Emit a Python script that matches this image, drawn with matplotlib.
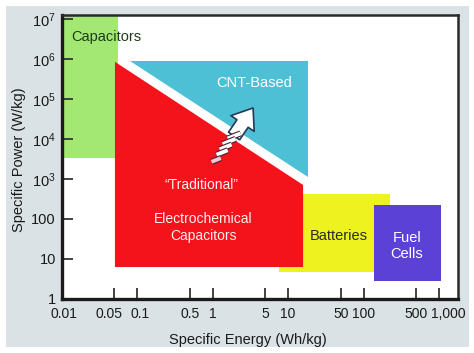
import matplotlib
matplotlib.use("Agg")
import matplotlib.pyplot as plt
import matplotlib.patheffects as pe
import matplotlib.transforms as mtransforms
from matplotlib.patches import Polygon, Rectangle

plt.rcParams['font.family'] = ['Liberation Sans', 'DejaVu Sans']
plt.rcParams['mathtext.fontset'] = 'custom'
plt.rcParams['mathtext.rm'] = 'Liberation Sans'

# x ticks (Wh/kg) and y ticks (W/kg)
x_ticks = [0.01, 0.05, 0.1, 0.5, 1, 5, 10, 50, 100, 500, 1000]
x_labels = ['0.01', '0.05', '0.1', '0.5', '1', '5', '10', '50', '100', '500', '1,000']
y_ticks = [1, 10, 100, 1e3, 1e4, 1e5, 1e6, 1e7]
y_labels = ['1', '10', '100', r'$\mathregular{10^3}$', r'$\mathregular{10^4}$',
            r'$\mathregular{10^5}$', r'$\mathregular{10^6}$', r'$\mathregular{10^7}$']

# regions: (energy, power) corners
capacitors_x = [0.01, 0.056]
capacitors_y = [3400, 1.26e7]
cnt_x = [0.081, 18.3, 18.3]
cnt_y = [8.9e5, 8.9e5, 1120]
trad_x = [0.051, 15.8, 15.8, 0.051]
trad_y = [8.5e5, 710, 6.3, 6.3]
batt_x = [7.6, 224]
batt_y = [4.7, 420]
fuel_x = [138, 1070]
fuel_y = [2.8, 225]

# arrow (tail, tip)
arrow_x = [1.93, 3.44]
arrow_y = [11900, 59600]

fig = plt.figure(figsize=(4.74, 3.53), dpi=100, facecolor='white')
fig.patches.append(Rectangle((6 / 474, 6 / 353), 463 / 474, 341 / 353,
                             transform=fig.transFigure, fc='#dbe2e6', ec='none', zorder=-5))
ax = fig.add_axes([61.5 / 474, 54 / 353, 396.5 / 474, 284 / 353])
ax.set_facecolor('white')
ax.set_xscale('log')
ax.set_yscale('log')
ax.set_xlim(0.01, 10 ** 3.25)
ax.set_ylim(1, 10 ** 7.1)

ax.add_patch(Rectangle((capacitors_x[0], capacitors_y[0]), capacitors_x[1] - capacitors_x[0],
                       capacitors_y[1] - capacitors_y[0], fc='#a3e872', ec='none', zorder=1))
ax.add_patch(Polygon(list(zip(cnt_x, cnt_y)), closed=True, fc='#4dc0d5', ec='none', zorder=1))
ax.add_patch(Rectangle((batt_x[0], batt_y[0]), batt_x[1] - batt_x[0], batt_y[1] - batt_y[0],
                       fc='#eef21e', ec='none', zorder=1))
ax.add_patch(Polygon(list(zip(trad_x, trad_y)), closed=True, fc='#f5131b', ec='none', zorder=2))
ax.add_patch(Rectangle((fuel_x[0], fuel_y[0]), fuel_x[1] - fuel_x[0], fuel_y[1] - fuel_y[0],
                       fc='#5b41d6', ec='none', zorder=2))

# arrow
ax.annotate('', xy=(arrow_x[1], arrow_y[1]), xytext=(arrow_x[0], arrow_y[0]),
            arrowprops=dict(arrowstyle='simple,head_length=0.5,head_width=0.75,tail_width=0.36',
                            fc='white', ec='#233a55', lw=1.2, shrinkA=0, shrinkB=0,
                            mutation_scale=27), zorder=4)

# stripes at the arrow tail (pixel offsets from the tail)
X0, Y0 = ax.transData.transform((arrow_x[0], arrow_y[0]))
inv = ax.transData.inverted()
stripes = [(0, 0, 7, 'white'), (-5, -5.5, 7, 'white'), (-8.5, -11, 6.5, 'white'),
           (-12, -16.5, 6, 'white'), (-18, -24, 5, '#f4c4d2')]
ux, uy = 0.93, 0.37
for dx, dy, h, c in stripes:
    p1 = inv.transform((X0 + dx - ux * h, Y0 + dy - uy * h))
    p2 = inv.transform((X0 + dx + ux * h, Y0 + dy + uy * h))
    ax.plot([p1[0], p2[0]], [p1[1], p2[1]], color=c, lw=2.8, solid_capstyle='butt', zorder=5,
            path_effects=[pe.Stroke(linewidth=4.4, foreground='#4a2035'), pe.Normal()])

# labels
ax.text(0.0134, 3.5e6, 'Capacitors', color='#1f3a1a', fontsize=10.5, ha='left', va='center', zorder=6)
ax.text(3.55, 2.5e5, 'CNT-Based', color='white', fontsize=10.5, ha='center', va='center', zorder=6)
ax.text(0.71, 710, '\u201cTraditional\u201d', color='#fff0f0', fontsize=10, ha='center', va='center', zorder=6)
ax.text(0.75, 60, 'Electrochemical\nCapacitors', color='#fff0f0', fontsize=10, ha='center',
        va='center', linespacing=1.25, zorder=6)
ax.text(47, 37.6, 'Batteries', color='#2a2a2a', fontsize=10.5, ha='center', va='center', zorder=6)
ax.text(377, 21, 'Fuel\nCells', color='white', fontsize=10.5, ha='center', va='center',
        linespacing=1.2, zorder=6)

ax.set_xticks(x_ticks)
ax.set_xticklabels(x_labels)
ax.set_yticks(y_ticks)
ax.set_yticklabels(y_labels)
ax.minorticks_off()
ax.tick_params(axis='both', direction='in', length=8, width=1.3, color='#333333',
               labelcolor='#1a1a1a')
ax.tick_params(axis='x', pad=6, labelsize=10)
ax.tick_params(axis='y', pad=4, labelsize=10.5)

# the original nudges a few crowded x labels sideways (pixels)
nudge = {'0.01': 2, '0.05': -5, '0.1': 3, '1,000': 9}
for lab in ax.get_xticklabels():
    shift = nudge.get(lab.get_text(), 0)
    if shift:
        lab.set_transform(lab.get_transform() +
                          mtransforms.ScaledTranslation(shift / 100, 0, fig.dpi_scale_trans))

for side in ['left', 'bottom']:
    ax.spines[side].set_linewidth(2.4)
    ax.spines[side].set_color('#1a1a1a')
for side in ['top', 'right']:
    ax.spines[side].set_linewidth(1.8)
    ax.spines[side].set_color('#2a2a2a')
for s in ax.spines.values():
    s.set_zorder(7)

ax.set_xlabel('Specific Energy (Wh/kg)', fontsize=10.5, color='#1a1a1a')
ax.xaxis.set_label_coords(0.47, -0.118)
ax.set_ylabel('Specific Power (W/kg)', fontsize=10.5, color='#1a1a1a')
ax.yaxis.set_label_coords(-0.09, 0.49)

fig.savefig('out.png', dpi=100, facecolor=fig.get_facecolor())
